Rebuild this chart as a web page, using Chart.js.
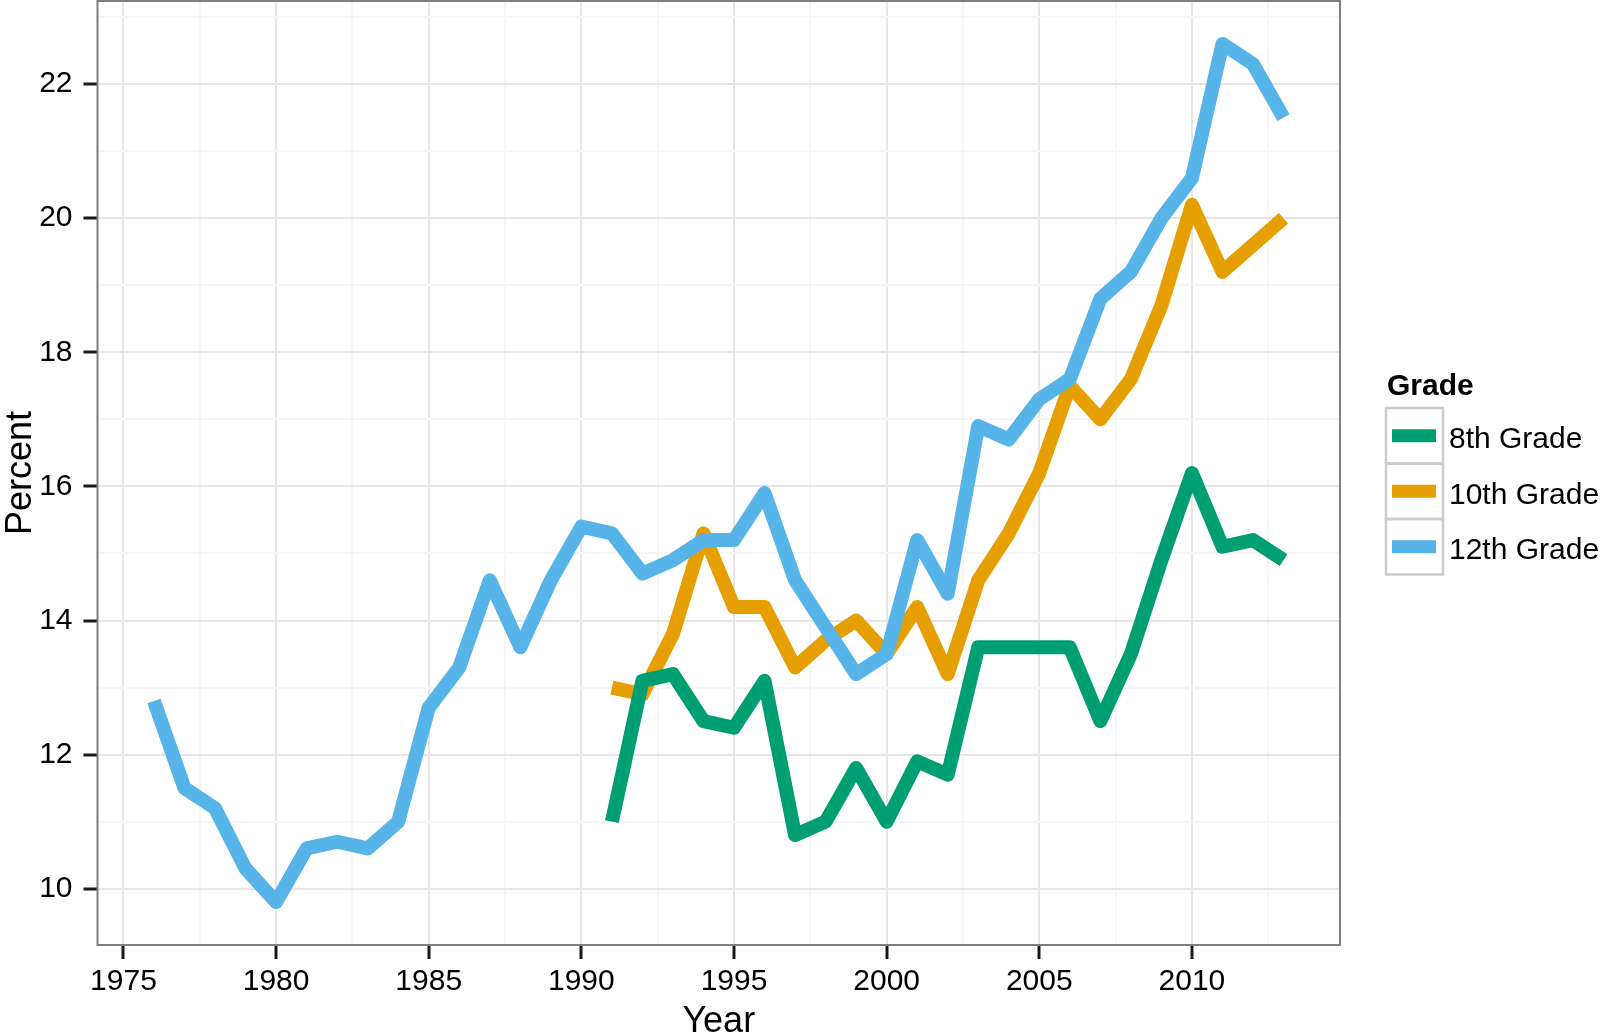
<!DOCTYPE html>
<html>
<head>
<meta charset="utf-8">
<title>Percent by grade, 1976-2013</title>
<script src="https://cdn.jsdelivr.net/npm/chart.js@4.4.1/dist/chart.umd.min.js"></script>
<style>
  html, body { margin: 0; padding: 0; background: #fff; }
  #chart { display: block; }
</style>
</head>
<body>
<canvas id="chart" width="1600" height="1033"></canvas>
<script>
// Values (percent)
const years = [1976, 1977, 1978, 1979, 1980, 1981, 1982, 1983, 1984, 1985,
               1986, 1987, 1988, 1989, 1990, 1991, 1992, 1993, 1994, 1995,
               1996, 1997, 1998, 1999, 2000, 2001, 2002, 2003, 2004, 2005,
               2006, 2007, 2008, 2009, 2010, 2011, 2012, 2013];

const grade8 = [null, null, null, null, null, null, null, null, null, null,
                null, null, null, null, null, 11.0, 13.1, 13.2, 12.5, 12.4,
                13.1, 10.8, 11.0, 11.8, 11.0, 11.9, 11.7, 13.6, 13.6, 13.6,
                13.6, 12.5, 13.5, 14.9, 16.2, 15.1, 15.2, 14.9];

const grade10 = [null, null, null, null, null, null, null, null, null, null,
                 null, null, null, null, null, 13.0, 12.9, 13.8, 15.3, 14.2,
                 14.2, 13.3, 13.7, 14.0, 13.5, 14.2, 13.2, 14.6, 15.3, 16.2,
                 17.5, 17.0, 17.6, 18.7, 20.2, 19.2, 19.6, 20.0];

const grade12 = [12.8, 11.5, 11.2, 10.3, 9.8, 10.6, 10.7, 10.6, 11.0, 12.7,
                 13.3, 14.6, 13.6, 14.6, 15.4, 15.3, 14.7, 14.9, 15.2, 15.2,
                 15.9, 14.6, 13.9, 13.2, 13.5, 15.2, 14.4, 16.9, 16.7, 17.3,
                 17.6, 18.8, 19.2, 20.0, 20.6, 22.6, 22.3, 21.5];

const seriesNames = ["8th Grade", "10th Grade", "12th Grade"];
const seriesColors = ["#009E73", "#E69F00", "#56B4E9"];

// Axis ticks (major get labels, minor only get a faint grid line)
const xTicks = [1975, 1980, 1985, 1990, 1995, 2000, 2005, 2010];
const xMinor = [1977.5, 1982.5, 1987.5, 1992.5, 1997.5, 2002.5, 2007.5, 2012.5];
const yTicks = [10, 12, 14, 16, 18, 20, 22];
const yMinor = [11, 13, 15, 17, 19, 21, 23];

const xMin = 1974.15, xMax = 2014.85;
const yMin = 9.16, yMax = 23.24;

const FONT = '"Liberation Sans", Arial, Helvetica, sans-serif';
const LINE_W = 14;

function toPoints(values) {
  return years.map((yr, i) => ({ x: yr, y: values[i] }));
}

function isMajor(ctx, list) {
  return ctx.tick && list.includes(ctx.tick.value);
}

// Panel border, axis titles and the boxed legend
const decorations = {
  id: "decorations",
  afterDraw(chart) {
    const { ctx, chartArea: a } = chart;
    ctx.save();

    ctx.strokeStyle = "#7f7f7f";
    ctx.lineWidth = 2;
    ctx.strokeRect(a.left, a.top, a.right - a.left, a.bottom - a.top);

    ctx.fillStyle = "#000";
    ctx.font = "36px " + FONT;
    ctx.textAlign = "center";
    ctx.textBaseline = "alphabetic";
    ctx.fillText("Year", (a.left + a.right) / 2, 1032);

    ctx.save();
    ctx.translate(31, (a.top + a.bottom) / 2);
    ctx.rotate(-Math.PI / 2);
    ctx.fillText("Percent", 0, 0);
    ctx.restore();

    // legend
    ctx.textAlign = "left";
    ctx.font = "bold 30px " + FONT;
    ctx.fillText("Grade", 1387, 395);

    const keyLeft = 1386, keyTop = 408, keyW = 57, keyH = 55.5;
    chart.data.datasets.forEach((ds, i) => {
      const y = keyTop + i * keyH;
      ctx.strokeStyle = "#cccccc";
      ctx.lineWidth = 2.5;
      ctx.strokeRect(keyLeft, y, keyW, keyH);

      ctx.strokeStyle = ds.borderColor;
      ctx.lineWidth = 13;
      ctx.lineCap = "butt";
      ctx.beginPath();
      ctx.moveTo(keyLeft + 6, y + keyH / 2);
      ctx.lineTo(keyLeft + keyW - 7, y + keyH / 2);
      ctx.stroke();

      ctx.fillStyle = "#000";
      ctx.font = "30px " + FONT;
      ctx.fillText(ds.label, 1449, y + keyH / 2 + 12.5);
    });

    ctx.restore();
  }
};

const ctx = document.getElementById("chart").getContext("2d");
const chart = new Chart(ctx, {
  type: "line",
  data: {
    datasets: [
      { label: seriesNames[0], data: toPoints(grade8), borderColor: seriesColors[0], order: 0 },
      { label: seriesNames[1], data: toPoints(grade10), borderColor: seriesColors[1], order: 2 },
      { label: seriesNames[2], data: toPoints(grade12), borderColor: seriesColors[2], order: 1 }
    ]
  },
  options: {
    responsive: false,
    animation: false,
    devicePixelRatio: 1,
    events: [],
    layout: { padding: { left: 0, top: 1, right: 260, bottom: 0 } },
    elements: {
      line: { borderWidth: LINE_W, tension: 0, borderJoinStyle: "round", borderCapStyle: "butt", fill: false },
      point: { radius: 0 }
    },
    plugins: {
      legend: { display: false },
      tooltip: { enabled: false }
    },
    scales: {
      x: {
        type: "linear",
        min: xMin,
        max: xMax,
        afterBuildTicks: axis => {
          axis.ticks = xTicks.concat(xMinor).sort((a, b) => a - b).map(v => ({ value: v }));
        },
        afterFit: axis => {
          axis.height = 88;
          axis.paddingLeft = 0;
          axis.paddingRight = 0;
        },
        border: { display: false },
        grid: {
          color: c => isMajor(c, xTicks) ? "#e6e6e6" : "#f6f6f6",
          lineWidth: 2,
          drawTicks: true,
          tickLength: 14,
          tickWidth: 3,
          tickColor: c => isMajor(c, xTicks) ? "#1a1a1a" : "rgba(0,0,0,0)"
        },
        ticks: {
          autoSkip: false,
          maxRotation: 0,
          padding: 5,
          color: "#000",
          font: { family: FONT, size: 30 },
          callback: v => xTicks.includes(v) ? String(v) : ""
        }
      },
      y: {
        min: yMin,
        max: yMax,
        afterBuildTicks: axis => {
          axis.ticks = yTicks.concat(yMinor).sort((a, b) => a - b).map(v => ({ value: v }));
        },
        afterFit: axis => {
          axis.width = 97.5;
          axis.paddingTop = 0;
          axis.paddingBottom = 0;
        },
        border: { display: false },
        grid: {
          color: c => isMajor(c, yTicks) ? "#e6e6e6" : "#f6f6f6",
          lineWidth: 2,
          drawTicks: true,
          tickLength: 14,
          tickWidth: 3,
          tickColor: c => isMajor(c, yTicks) ? "#1a1a1a" : "rgba(0,0,0,0)"
        },
        ticks: {
          autoSkip: false,
          padding: 11,
          color: "#000",
          font: { family: FONT, size: 30 },
          callback: v => yTicks.includes(v) ? String(v) : ""
        }
      }
    }
  },
  plugins: [decorations]
});
</script>
</body>
</html>
